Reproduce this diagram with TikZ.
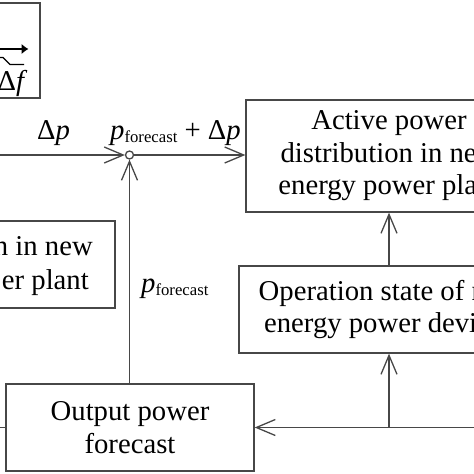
\documentclass[tikz,border=0pt]{standalone}
\usepackage{fontspec}
\setmainfont{Liberation Serif}
\usetikzlibrary{arrows.meta}
\newcommand\bigfont{\fontsize{28.7}{32.5}\selectfont}
\newcommand\subf[1]{\raisebox{-3pt}{\fontsize{16.7}{18}\selectfont #1}}
\begin{document}
\begin{tikzpicture}[x=1pt,y=-1pt,
  line/.style={draw=black!72, line width=1.3pt},
  blk/.style={line, rectangle, inner sep=0pt, align=center, font=\bigfont, text=black},
  oarr/.style={-{Straight Barb[length=19pt,width=16pt,line width=1.3pt]}},
  lbl/.style={font=\bigfont, inner sep=0pt, text=black}]
\useasboundingbox (0,0) rectangle (474,474);
\clip (0,0) rectangle (474,474);
% boxes
\node[blk, minimum width=286pt, minimum height=112pt] (act) at (389,156)
  {Active power\\distribution in new\\energy power plant};
\node[blk, minimum width=300pt, minimum height=87pt] (op) at (389,309.5)
  {Operation state of new\\energy power devices};
\node[blk, minimum width=248pt, minimum height=87pt] (out) at (130,427.5)
  {Output power\\forecast};
\node[blk, minimum width=245pt, minimum height=87pt] (left) at (-7.5,264.5) {};
\node[blk, minimum width=100pt, minimum height=95pt] (tl) at (-10,50.5) {};
% left box text fragments
\node[lbl, anchor=base east] (lt1) at (93,255) {n in new};
\node[lbl, anchor=base east] (lt2) at (89,289) {er plant};
% top-left box content
\coordinate (tla) at (-5,49);
\coordinate (tlb) at (28.5,49);
\draw[-{Latex[length=7pt,width=10.7pt]}, line width=1.5pt, black] (tla) -- (tlb);
\coordinate (c1) at (-2,57.5);
\coordinate (c2) at (3,57.5);
\coordinate (c3) at (10,64.5);
\coordinate (c4) at (24,64.5);
\draw[black, line width=1.3pt] (c1) -- (c2) -- (c3) -- (c4);
\node[lbl, anchor=base east] (df) at (27.5,90) {Δ\textit{f}};
% summing point
\node[line, circle, minimum size=8pt, inner sep=0pt] (sum) at (129.5,155) {};
% connectors
\coordinate (lin) at (-5,155);
\draw[line, oarr] (lin) -- (sum);
\draw[line, oarr] (sum) -- (sum -| act.west);
\draw[line, oarr] (out.north -| sum) -- (sum);
\coordinate (rin) at (480,427.5);
\draw[line, oarr] (rin) -- (out.east);
\coordinate (br) at (389,427.5);
\draw[line, oarr] (br) -- (op.south);
\draw[line, oarr] (op.north) -- (act.south);
\coordinate (lout) at (-10,427.5);
\draw[line] (out.west) -- (lout);
% labels
\node[lbl, anchor=base west] (dp) at (37,139) {Δ\textit{p}};
\node[lbl, anchor=base west] (pf) at (110,139) {\textit{p}\subf{forecast} + Δ\textit{p}};
\node[lbl, anchor=base west] (pf2) at (141,292) {\textit{p}\subf{forecast}};
\end{tikzpicture}
\end{document}
